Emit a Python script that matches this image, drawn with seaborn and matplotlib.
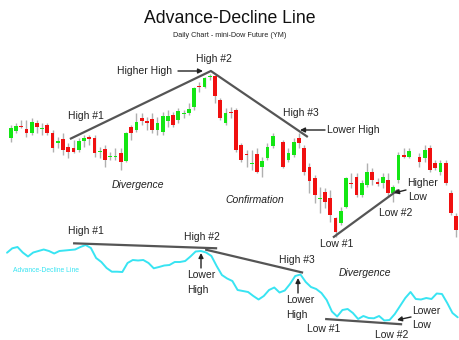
import numpy as np
import pandas as pd
import matplotlib
matplotlib.use("Agg")
import matplotlib.pyplot as plt
import seaborn as sns

# ---------------- data ----------------
nan = np.nan
opens = [112, 119, 124, 121, 117, 127, 121, 125, 117, 107, 111, 103, 102, 100, 109, 113, 112, 98, 101, 93,
         93, 97, 89, 123, 120, 132, 129, 131, 120, 118, 129, 135, 130, 136, 137, 143, 164, 163, 173, 174,
         150, 127, 138, 140, 105, 96, 86, 96, 83, 92, 104, nan, 108, 90, 95, 112, 102, 83, 72, 51,
         58, 52, 32, 27, 43, 67, 73, 55, 65, 78, 68, 67, 70, 57, 70, 95, 93, nan, 93, 92,
         102, 87, 78, 87, 57, 34]
highs = [125, 127, 130, 130, 132, 130, 127, 127, 120, 113, 117, 107, 110, 112, 115, 115, 115, 103, 105, 98,
         102, 102, 118, 125, 137, 137, 133, 137, 133, 138, 140, 138, 142, 140, 147, 163, 168, 173, 176, 175,
         152, 142, 143, 142, 107, 100, 100, 102, 93, 107, 117, nan, 110, 102, 112, 117, 105, 87, 75, 63,
         62, 60, 33, 43, 73, 77, 77, 70, 87, 82, 72, 77, 77, 65, 98, 102, 102, nan, 97, 105,
         105, 90, 90, 90, 60, 37]
lows = [108, 117, 122, 113, 115, 117, 115, 115, 98, 102, 95, 92, 97, 98, 103, 105, 93, 92, 83, 90,
        90, 80, 88, 110, 118, 125, 120, 117, 115, 115, 123, 123, 127, 132, 135, 140, 158, 162, 170, 147,
        130, 125, 132, 98, 88, 83, 80, 77, 73, 90, 102, nan, 82, 88, 93, 102, 75, 57, 47, 37,
        42, 28, 13, 25, 42, 62, 53, 53, 63, 65, 64, 62, 53, 48, 67, 92, 92, nan, 83, 88,
        78, 80, 75, 65, 35, 13]
closes = [122, 124, 123, 117, 128, 123, 122, 117, 102, 109, 100, 98, 98, 109, 112, 111, 97, 99, 90, 94,
          94, 88, 117, 117, 128, 129, 127, 120, 127, 134, 134, 125, 139, 137, 141, 162, 163, 172, 174, 154,
          132, 137, 137, 100, 90, 95, 87, 78, 89, 103, 114, nan, 83, 97, 108, 107, 78, 69, 55, 52,
          48, 35, 18, 39, 72, 66, 55, 67, 78, 70, 66, 73, 57, 63, 95, 93, 99, nan, 88, 100,
          80, 82, 87, 67, 37, 20]

ad_line = [77.3, 81.7, 83, 77.5, 73.5, 77.5, 79, 80.5, 79, 76.5, 79, 79.5, 80, 80.5, 83, 85, 82, 72, 68, 62,
           58.3, 58.3, 58, 67, 70, 69.5, 70, 67, 61.7, 63, 64.5, 65, 68, 68, 69, 73.5, 78.5, 79, 77.5, 74,
           64, 55, 51.5, 49, 40, 39, 38, 34, 30.5, 34, 40, 42.5, 37.5, 39.5, 46, 54, 55.5, 48, 43, 41,
           37, 30, 18.5, 13.5, 20, 21, 17, 11, 14, 12, 11.7, 14, 9.5, 10, 16, 24, 32, 38, 31, 30.5,
           32, 31, 36.5, 36, 27, 17, 12.7]
AD_SHIFT = -0.7  # the A/D line starts slightly before the first candle

# annotation trend lines (day, value)
price_tops = ([11.3, 38.2, 56.7], [111, 179, 113])
price_lows = ([61.5, 73.9], [12.5, 60])
ad_tops1 = ([11.9, 39.4], [86.7, 81.7])
ad_tops2 = ([37.1, 55.8], [80.5, 57.3])
ad_lows = ([60.0, 74.7], [11.0, 5.7])

# ---------------- style ----------------
sns.set_theme(style="white")
plt.rcParams['font.family'] = ['Liberation Sans', 'DejaVu Sans']

W, H = 460, 340
fig = plt.figure(figsize=(W / 100, H / 100), dpi=100)
fig.patch.set_facecolor('white')
ax = fig.add_axes([0, 0, 1, 1])
ax2 = ax.twinx()
ax.set_xlim(-2.04, 85.74)
ax.set_ylim(-90, 250)
ax2.set_ylim(-10, 330)
ax.axis('off')
ax2.axis('off')

GREEN = '#14e614'
RED = '#f01010'
WICK = '#b0b0b0'
INK = '#222222'
TREND = '#555555'

df = pd.DataFrame({'day': np.arange(len(opens)), 'open': opens, 'high': highs,
                   'low': lows, 'close': closes}).dropna()
up = df['close'] >= df['open']
body_bottom = np.minimum(df['open'], df['close'])
body_height = np.maximum(np.abs(df['close'] - df['open']), 1.4)
ax.vlines(df['day'], df['low'], df['high'], color=WICK, lw=1.0, zorder=1)
ax.bar(df['day'], body_height, bottom=body_bottom, width=0.72,
       color=np.where(up, GREEN, RED), linewidth=0, zorder=2)

ad_df = pd.DataFrame({'day': np.arange(len(ad_line)) + AD_SHIFT, 'ad': ad_line})
sns.lineplot(data=ad_df, x='day', y='ad', ax=ax2, color='#38e4f2', lw=1.4, legend=False)
ax2.set_xlabel('')
ax2.set_ylabel('')
ax2.axis('off')

ax.plot(*price_tops, color=TREND, lw=1.6, zorder=3, solid_capstyle='butt')
ax.plot(*price_lows, color=TREND, lw=1.6, zorder=3, solid_capstyle='butt')
for seg in (ad_tops1, ad_tops2, ad_lows):
    ax2.plot(*seg, color=TREND, lw=1.6, zorder=3, solid_capstyle='butt')


def px(x, y):
    return (x / W, 1 - y / H)


def label(x, y, s, size=7.5, style='normal', color=INK, ha='left'):
    fig.text(*px(x, y), s, fontsize=size, style=style, color=color, ha=ha, va='baseline')


def arrow(x0, y0, x1, y1):
    ax.annotate('', xy=px(x1, y1), xytext=px(x0, y0), xycoords='figure fraction',
                textcoords='figure fraction',
                arrowprops=dict(arrowstyle='-|>', color=INK, lw=1.0, mutation_scale=7,
                                shrinkA=0, shrinkB=0))


label(230, 23, 'Advance-Decline Line', size=12.7, color='#111111', ha='center')
label(230, 37, 'Daily Chart - mini-Dow Future (YM)', size=5.2, color='#222222', ha='center')

label(68, 119, 'High #1')
label(117, 74, 'Higher High')
arrow(178, 71, 203, 71)
label(196, 62, 'High #2')
label(283, 116, 'High #3')
label(327, 133.5, 'Lower High')
arrow(325, 130, 300, 130)
label(112, 188, 'Divergence', style='italic')
label(225, 203, 'Confirmation', style='italic')
label(407, 186, 'Higher')
label(408, 200, 'Low')
arrow(406, 190, 394, 193)
label(379, 216.5, 'Low #2')
label(320, 247, 'Low #1')

label(68, 234, 'High #1')
label(184, 240, 'High #2')
arrow(201, 268, 201, 253)
label(187, 278, 'Lower')
label(187, 293, 'High')
label(279, 263, 'High #3')
arrow(298, 293, 298, 278)
label(286, 303, 'Lower')
label(286, 318, 'High')
label(339, 276, 'Divergence', style='italic')
label(307, 331.5, 'Low #1')
label(375, 337.5, 'Low #2')
label(412, 313.5, 'Lower')
label(412, 328, 'Low')
arrow(411, 317, 397, 320)
label(12.7, 272, 'Advance-Decline Line', size=4.9, color='#38e4f2')

fig.savefig('out.png', dpi=100, facecolor='white')
